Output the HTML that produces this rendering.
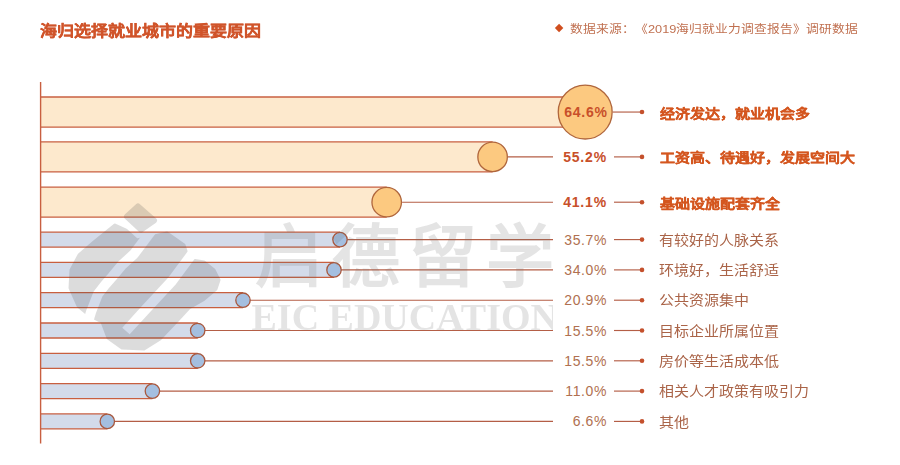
<!DOCTYPE html>
<html lang="zh-CN"><head><meta charset="utf-8">
<style>
html,body{margin:0;padding:0;background:#fff;}
#c{text-spacing-trim:space-all;position:relative;width:900px;height:465px;overflow:hidden;background:#fff;font-family:"Liberation Sans",sans-serif;}
svg{position:absolute;left:0;top:0;}
#title{position:absolute;left:40px;top:23px;font-size:17px;font-weight:700;color:#d0542a;white-space:nowrap;line-height:20px;transform:scaleY(0.88);transform-origin:0 0;-webkit-text-stroke:0.35px #d0542a;}
#src{position:absolute;left:570px;top:22px;font-size:12.8px;color:#c07050;white-space:nowrap;line-height:18px;transform:scaleY(0.88);transform-origin:0 0;}
#dia{position:absolute;left:556.2px;top:24.5px;width:6.2px;height:6.2px;background:#d04e1e;transform:rotate(45deg);}
.pb{position:absolute;font-size:14px;font-weight:bold;color:#c8502a;line-height:18px;white-space:nowrap;letter-spacing:0.8px;}
.pl{position:absolute;font-size:14px;color:#b07050;line-height:18px;white-space:nowrap;letter-spacing:0.6px;}
.lb{position:absolute;left:660px;font-size:15px;font-weight:bold;color:#d4561f;line-height:20px;white-space:nowrap;transform:scaleY(0.87);transform-origin:0 18px;-webkit-text-stroke:0.3px #d4561f;}
.ll{position:absolute;left:659px;font-size:15px;color:#aa6448;line-height:20px;white-space:nowrap;transform:scaleY(0.9);transform-origin:0 8px;}
#wm{position:absolute;left:0;top:0;opacity:0.19;}
#wmt{position:absolute;left:255px;top:214px;font-size:68px;letter-spacing:9px;line-height:86px;color:#6f6f6f;opacity:0.18;white-space:nowrap;font-weight:bold;}
#wme{position:absolute;left:251.5px;top:294.5px;font-size:38px;line-height:44px;color:#6f6f6f;opacity:0.18;white-space:nowrap;font-family:"Liberation Serif",serif;font-weight:bold;}
#wmc{position:absolute;left:0;top:0;width:553px;height:465px;overflow:hidden;}
</style></head><body>
<div id="c">
<svg width="900" height="465" viewBox="0 0 900 465">
<rect x="40.6" y="97.0" width="544.6" height="30.1" fill="#fde9cd"/>
<line x1="40.6" y1="97.0" x2="585.2" y2="97.0" stroke="#c85f40" stroke-width="1.3"/>
<line x1="40.6" y1="127.1" x2="585.2" y2="127.1" stroke="#c85f40" stroke-width="1.3"/>
<rect x="40.6" y="141.9" width="452.0" height="30" fill="#fde9cd"/>
<line x1="40.6" y1="141.9" x2="492.6" y2="141.9" stroke="#c85f40" stroke-width="1.3"/>
<line x1="40.6" y1="171.9" x2="492.6" y2="171.9" stroke="#c85f40" stroke-width="1.3"/>
<rect x="40.6" y="187.2" width="346.1" height="30" fill="#fde9cd"/>
<line x1="40.6" y1="187.2" x2="386.7" y2="187.2" stroke="#c85f40" stroke-width="1.3"/>
<line x1="40.6" y1="217.2" x2="386.7" y2="217.2" stroke="#c85f40" stroke-width="1.3"/>
<rect x="40.6" y="232.10" width="299.4" height="15" fill="#d3dbea"/>
<line x1="40.6" y1="232.10" x2="340.0" y2="232.10" stroke="#c85f40" stroke-width="1.3"/>
<line x1="40.6" y1="247.10" x2="340.0" y2="247.10" stroke="#c85f40" stroke-width="1.3"/>
<rect x="40.6" y="262.40" width="293.4" height="15" fill="#d3dbea"/>
<line x1="40.6" y1="262.40" x2="334.0" y2="262.40" stroke="#c85f40" stroke-width="1.3"/>
<line x1="40.6" y1="277.40" x2="334.0" y2="277.40" stroke="#c85f40" stroke-width="1.3"/>
<rect x="40.6" y="292.70" width="202.4" height="15" fill="#d3dbea"/>
<line x1="40.6" y1="292.70" x2="243.0" y2="292.70" stroke="#c85f40" stroke-width="1.3"/>
<line x1="40.6" y1="307.70" x2="243.0" y2="307.70" stroke="#c85f40" stroke-width="1.3"/>
<rect x="40.6" y="323.00" width="157.1" height="15" fill="#d3dbea"/>
<line x1="40.6" y1="323.00" x2="197.7" y2="323.00" stroke="#c85f40" stroke-width="1.3"/>
<line x1="40.6" y1="338.00" x2="197.7" y2="338.00" stroke="#c85f40" stroke-width="1.3"/>
<rect x="40.6" y="353.30" width="157.1" height="15" fill="#d3dbea"/>
<line x1="40.6" y1="353.30" x2="197.7" y2="353.30" stroke="#c85f40" stroke-width="1.3"/>
<line x1="40.6" y1="368.30" x2="197.7" y2="368.30" stroke="#c85f40" stroke-width="1.3"/>
<rect x="40.6" y="383.60" width="111.8" height="15" fill="#d3dbea"/>
<line x1="40.6" y1="383.60" x2="152.4" y2="383.60" stroke="#c85f40" stroke-width="1.3"/>
<line x1="40.6" y1="398.60" x2="152.4" y2="398.60" stroke="#c85f40" stroke-width="1.3"/>
<rect x="40.6" y="413.90" width="66.7" height="15" fill="#d3dbea"/>
<line x1="40.6" y1="413.90" x2="107.3" y2="413.90" stroke="#c85f40" stroke-width="1.3"/>
<line x1="40.6" y1="428.90" x2="107.3" y2="428.90" stroke="#c85f40" stroke-width="1.3"/>
<line x1="40.6" y1="82" x2="40.6" y2="443.5" stroke="#c85f40" stroke-width="1.4"/>
<line x1="612.8" y1="112.05" x2="642" y2="112.05" stroke="#b45e46" stroke-width="1.15"/>
<circle cx="642" cy="112.05" r="2.3" fill="#c4502c"/>
<line x1="508.0" y1="156.90" x2="553" y2="156.90" stroke="#b45e46" stroke-width="1.15"/>
<line x1="614" y1="156.90" x2="642" y2="156.90" stroke="#b45e46" stroke-width="1.15"/>
<circle cx="642" cy="156.90" r="2.3" fill="#c4502c"/>
<line x1="402.1" y1="202.20" x2="553" y2="202.20" stroke="#b45e46" stroke-width="1.15"/>
<line x1="614" y1="202.20" x2="642" y2="202.20" stroke="#b45e46" stroke-width="1.15"/>
<circle cx="642" cy="202.20" r="2.3" fill="#c4502c"/>
<line x1="347.0" y1="239.60" x2="553" y2="239.60" stroke="#b45e46" stroke-width="1.15"/>
<line x1="614" y1="239.60" x2="642" y2="239.60" stroke="#b45e46" stroke-width="1.15"/>
<circle cx="642" cy="239.60" r="2.3" fill="#c4502c"/>
<line x1="341.0" y1="269.90" x2="553" y2="269.90" stroke="#b45e46" stroke-width="1.15"/>
<line x1="614" y1="269.90" x2="642" y2="269.90" stroke="#b45e46" stroke-width="1.15"/>
<circle cx="642" cy="269.90" r="2.3" fill="#c4502c"/>
<line x1="250.0" y1="300.20" x2="553" y2="300.20" stroke="#b45e46" stroke-width="1.15"/>
<line x1="614" y1="300.20" x2="642" y2="300.20" stroke="#b45e46" stroke-width="1.15"/>
<circle cx="642" cy="300.20" r="2.3" fill="#c4502c"/>
<line x1="204.7" y1="330.50" x2="553" y2="330.50" stroke="#b45e46" stroke-width="1.15"/>
<line x1="614" y1="330.50" x2="642" y2="330.50" stroke="#b45e46" stroke-width="1.15"/>
<circle cx="642" cy="330.50" r="2.3" fill="#c4502c"/>
<line x1="204.7" y1="360.80" x2="553" y2="360.80" stroke="#b45e46" stroke-width="1.15"/>
<line x1="614" y1="360.80" x2="642" y2="360.80" stroke="#b45e46" stroke-width="1.15"/>
<circle cx="642" cy="360.80" r="2.3" fill="#c4502c"/>
<line x1="159.4" y1="391.10" x2="553" y2="391.10" stroke="#b45e46" stroke-width="1.15"/>
<line x1="614" y1="391.10" x2="642" y2="391.10" stroke="#b45e46" stroke-width="1.15"/>
<circle cx="642" cy="391.10" r="2.3" fill="#c4502c"/>
<line x1="114.3" y1="421.40" x2="553" y2="421.40" stroke="#b45e46" stroke-width="1.15"/>
<line x1="614" y1="421.40" x2="642" y2="421.40" stroke="#b45e46" stroke-width="1.15"/>
<circle cx="642" cy="421.40" r="2.3" fill="#c4502c"/>
<circle cx="585.2" cy="112.05" r="26.95" fill="#fcc980" stroke="#b0663c" stroke-width="1.3"/>
<circle cx="492.6" cy="156.90" r="14.75" fill="#fcc980" stroke="#b0663c" stroke-width="1.3"/>
<circle cx="386.7" cy="202.20" r="14.75" fill="#fcc980" stroke="#b0663c" stroke-width="1.3"/>
<circle cx="340.0" cy="239.60" r="7.2" fill="#a4bfe0" stroke="#a8583e" stroke-width="1.3"/>
<circle cx="334.0" cy="269.90" r="7.2" fill="#a4bfe0" stroke="#a8583e" stroke-width="1.3"/>
<circle cx="243.0" cy="300.20" r="7.2" fill="#a4bfe0" stroke="#a8583e" stroke-width="1.3"/>
<circle cx="197.7" cy="330.50" r="7.2" fill="#a4bfe0" stroke="#a8583e" stroke-width="1.3"/>
<circle cx="197.7" cy="360.80" r="7.2" fill="#a4bfe0" stroke="#a8583e" stroke-width="1.3"/>
<circle cx="152.4" cy="391.10" r="7.2" fill="#a4bfe0" stroke="#a8583e" stroke-width="1.3"/>
<circle cx="107.3" cy="421.40" r="7.2" fill="#a4bfe0" stroke="#a8583e" stroke-width="1.3"/>
</svg>
<div id="wmc">
<svg id="wm" width="900" height="465" viewBox="0 0 900 465">
<defs><mask id="mk" maskUnits="userSpaceOnUse" x="0" y="0" width="900" height="465">
<polygon fill="#fff" stroke="#fff" stroke-width="3" stroke-linejoin="round" points="115,225 126,230 137,240 150,237 167,233 184,245 187,254 192,260 204,262 214,270 219,280 216,289 203,300 189,308 177,321 160,339 144,349 122,348 108,338 102,322 90,316 78,306 70,288 71,270 79,255 94,242"/>
<g stroke="#000" stroke-width="10" stroke-linecap="butt" fill="none">
<path d="M158,222 L134,254 L122,265 L112,277 L105,285 L98,294 L91,312 L88,322" stroke-linejoin="round"/>
<path d="M192,254 L172,281 L146,309 L126,331" stroke-linejoin="round"/>
</g>
</mask></defs>
<g fill="#4a4a4a" stroke="#4a4a4a" stroke-linejoin="round">
<polygon points="138,206.5 154,220.5 141,229.5 127,216.5" stroke-width="6"/>
<rect x="0" y="0" width="900" height="465" mask="url(#mk)" stroke="none"/>
</g>
</svg>
<div id="wmt">启德留学</div>
<div id="wme">EIC EDUCATION</div>
</div>
<div id="title">海归选择就业城市的重要原因</div>
<div id="dia"></div>
<div id="src">数据来源：《2019海归就业力调查报告》调研数据</div>
<div class="pb" style="left:546px;width:80px;text-align:center;top:103.0px">64.6%</div>
<div class="lb" style="top:102.5px">经济发达，就业机会多</div>
<div class="pb" style="left:506px;width:100.9px;text-align:right;top:147.9px">55.2%</div>
<div class="lb" style="top:147.4px">工资高、待遇好，发展空间大</div>
<div class="pb" style="left:506px;width:100.9px;text-align:right;top:193.2px">41.1%</div>
<div class="lb" style="top:192.7px">基础设施配套齐全</div>
<div class="pl" style="left:506px;width:101px;text-align:right;top:230.6px">35.7%</div>
<div class="ll" style="top:230.8px">有较好的人脉关系</div>
<div class="pl" style="left:506px;width:101px;text-align:right;top:260.9px">34.0%</div>
<div class="ll" style="top:261.1px">环境好，生活舒适</div>
<div class="pl" style="left:506px;width:101px;text-align:right;top:291.2px">20.9%</div>
<div class="ll" style="top:291.4px">公共资源集中</div>
<div class="pl" style="left:506px;width:101px;text-align:right;top:321.5px">15.5%</div>
<div class="ll" style="top:321.7px">目标企业所属位置</div>
<div class="pl" style="left:506px;width:101px;text-align:right;top:351.8px">15.5%</div>
<div class="ll" style="top:352.0px">房价等生活成本低</div>
<div class="pl" style="left:506px;width:101px;text-align:right;top:382.1px">11.0%</div>
<div class="ll" style="top:382.3px">相关人才政策有吸引力</div>
<div class="pl" style="left:506px;width:101px;text-align:right;top:412.4px">6.6%</div>
<div class="ll" style="top:412.6px">其他</div>
</div>
</body></html>
